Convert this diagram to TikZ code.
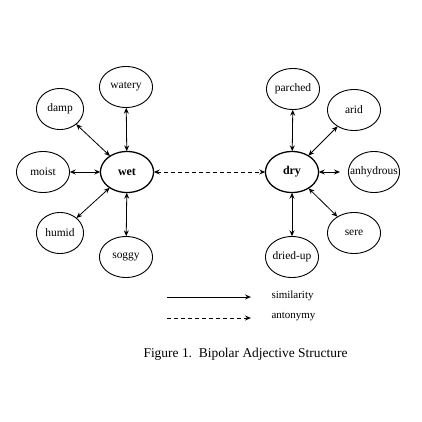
\documentclass[tikz,border=0pt]{standalone}
\usepackage{fontspec}
\setmainfont{Liberation Serif}
\usetikzlibrary{shapes.geometric,arrows.meta}
\begin{document}
\begin{tikzpicture}[x=1bp,y=1bp,
  word/.style={ellipse,minimum width=53bp,minimum height=41bp,inner sep=0pt,
    font=\fontsize{11.5}{13}\selectfont},
  hub/.style={word,font=\fontsize{12}{13}\selectfont\bfseries},
  sim/.style={line width=0.8bp,{Stealth[open,length=6bp,width=5bp,inset=2bp]}-{Stealth[open,length=6bp,width=5bp,inset=2bp]}},
  ant/.style={line width=0.8bp,dash pattern=on 4bp off 3bp,{Stealth[open,length=6bp,width=5bp,inset=2bp]}-{Stealth[open,length=6bp,width=5bp,inset=2bp]}},
  legtext/.style={font=\fontsize{11}{13}\selectfont,anchor=west}]
\useasboundingbox (0,0) rectangle (422,-422);
% wet cluster
\node[hub] (wet) at (127,-172) {wet};
\node[word] (watery) at (126,-87) {watery};
\node[word,minimum width=47bp] (damp) at (60,-109) {damp};
\node[word] (moist) at (43,-172) {moist};
\node[word,minimum width=47bp] (humid) at (60,-233) {humid};
\node[word] (soggy) at (126,-257) {soggy};
% dry cluster
\node[hub] (dry) at (292,-172) {dry};
\node[word] (parched) at (293,-89) {parched};
\node[word] (arid) at (354,-110) {arid};
\node[word,minimum width=51bp] (anhyd) at (374,-172) {anhydrous};
\node[word] (sere) at (354,-233) {sere};
\node[word] (driedup) at (292,-257) {dried-up};
% ellipse outlines
\foreach \n/\rx/\lw in {watery/26.5/0.9,damp/23.5/0.9,moist/26.5/0.9,humid/23.5/0.9,soggy/26.5/0.9,
  parched/26.5/0.9,arid/26.5/0.9,anhyd/25.5/0.9,sere/26.5/0.9,driedup/26.5/0.9,wet/26.5/1.3,dry/26.5/1.3}
  \draw[shift={(\n.center)},line width=\lw bp,line join=round]
    plot[domain=0:360,samples=91,variable=\t] ({\rx*cos(\t)},{20.5*sin(\t)}) -- cycle;
% similarity connectors
\draw[sim] (watery) -- (wet);
\draw[sim] (damp) -- (wet);
\draw[sim] (moist) -- (wet);
\draw[sim] (humid) -- (wet);
\draw[sim] (soggy) -- (wet);
\draw[sim] (parched) -- (dry);
\draw[sim] (arid) -- (dry);
\draw[sim] (anhyd) -- (dry);
\draw[sim] (sere) -- (dry);
\draw[sim] (driedup) -- (dry);
% antonymy
\draw[ant] (wet) -- (dry);
% legend
\coordinate (s1) at (167,-297);
\coordinate (s2) at (251,-297);
\coordinate (a1) at (167,-318);
\coordinate (a2) at (251,-318);
\draw[line width=0.8bp,-{Stealth[open,length=6bp,width=5bp,inset=2bp]}] (s1) -- (s2);
\draw[line width=0.8bp,dash pattern=on 4bp off 3bp,-{Stealth[open,length=6bp,width=5bp,inset=2bp]}] (a1) -- (a2);
\node[legtext] (simlab) at (268,-296) {similarity};
\node[legtext] (antlab) at (268,-317) {antonymy};
% caption
\node[font=\fontsize{13.5}{16}\selectfont] (cap) at (245.5,-354) {Figure 1.\ \ Bipolar Adjective Structure};
\end{tikzpicture}
\end{document}
